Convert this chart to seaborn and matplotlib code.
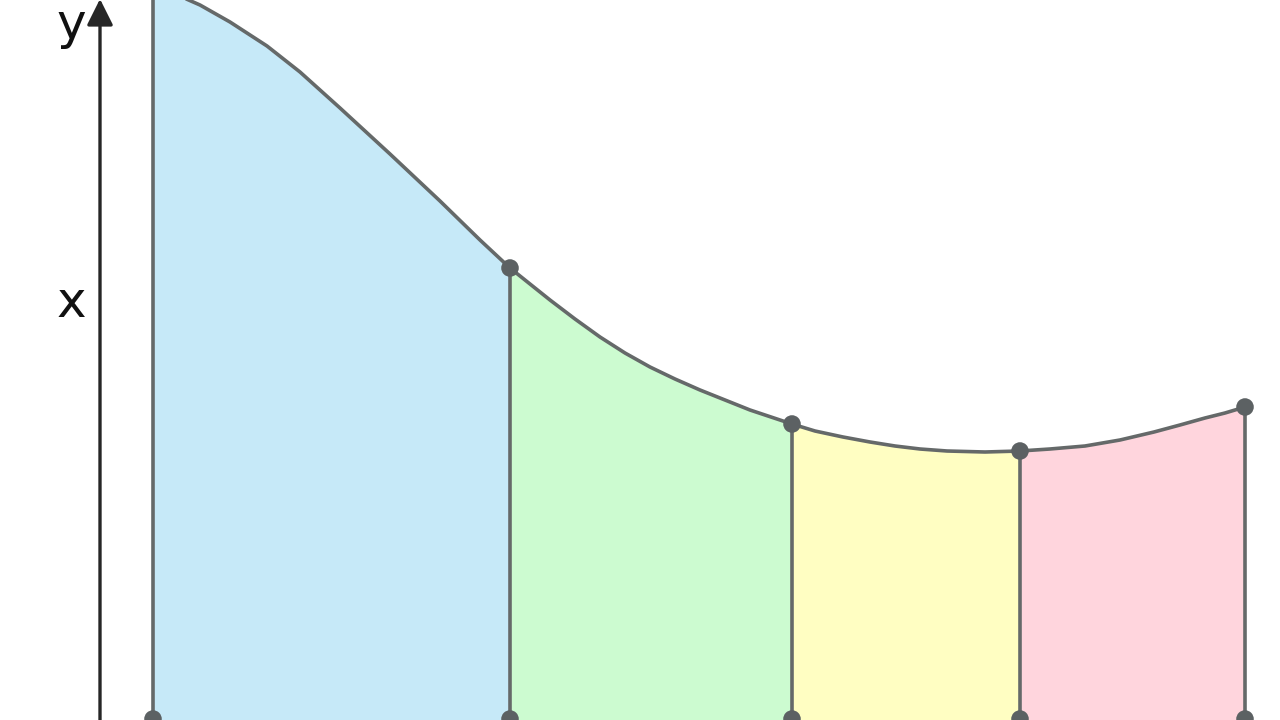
import numpy as np
import matplotlib
matplotlib.use('Agg')  # no display in the sandbox
import matplotlib.pyplot as plt
import seaborn as sns

# Curve (x position, height above the baseline)
curve_x = [153, 175, 200, 230, 267, 300, 340, 390, 440, 480, 510,
           530, 550, 575, 600, 625, 650, 675, 700, 725, 750, 771, 792,
           815, 843, 870, 895, 920, 947, 985, 1020,
           1050, 1085, 1120, 1154, 1180, 1205, 1225, 1245]
curve_h = [734, 726, 715, 698, 674, 648, 612, 566, 519, 480, 452,
           436, 420, 401, 383, 367, 353, 341, 330, 320, 310, 303, 296,
           289, 283, 278, 274, 271, 269, 268, 269,
           271, 274, 280, 288, 295, 302, 307, 313]

# Partition points and the colour of each strip
knots_x = [153, 510, 792, 1020, 1245]
region_colors = ['#c6e9f8', '#ccfbd0', '#fffec2', '#ffd5dd']

axis_label_x = 'x'
axis_label_y = 'y'

sns.set_theme(style="white")
plt.rcParams['font.family'] = ['DejaVu Sans']

line_color = '#656969'
dot_color = '#5c6163'

fig = plt.figure(figsize=(12.8, 7.2), dpi=100)
ax = fig.add_axes([0, 0, 1, 1])
ax.set_xlim(0, 1280)
ax.set_ylim(0, 720)
ax.set_axis_off()

xs = np.array(curve_x)
hs = np.array(curve_h)
height_at = dict(zip(curve_x, curve_h))
knots_h = [height_at[k] for k in knots_x]

# 1. coloured strips under the curve
for i, col in enumerate(region_colors):
    mask = (xs >= knots_x[i]) & (xs <= knots_x[i + 1])
    ax.fill_between(xs[mask], 0, hs[mask], color=col, lw=0, zorder=1)

# 2. the curve itself
sns.lineplot(x=curve_x, y=curve_h, ax=ax, sort=False, color=line_color,
             lw=2.6, zorder=3)
ax.lines[-1].set_solid_joinstyle('round')

# 3. vertical partition lines
ax.vlines(knots_x, 0, knots_h, color=line_color, lw=2.6, zorder=2)

# 4. dots on the curve and on the baseline
sns.scatterplot(x=knots_x[1:], y=knots_h[1:], ax=ax, s=160, color=dot_color,
                edgecolor='none', zorder=4, legend=False)
sns.scatterplot(x=knots_x, y=[1] * len(knots_x), ax=ax, s=160, color=dot_color,
                edgecolor='none', zorder=4, legend=False)

# 5. vertical axis with arrow head
ax.annotate('', xy=(100, 721), xytext=(100, -5),
            arrowprops=dict(arrowstyle='-|>', lw=2.4, color='#262626',
                            mutation_scale=40, shrinkA=0, shrinkB=0),
            annotation_clip=False, zorder=5)

ax.text(71, 719, axis_label_y, fontsize=36, ha='center', va='top',
        color='#111111')
ax.text(71, 403, axis_label_x, fontsize=36, ha='center', va='baseline',
        color='#111111')

fig.savefig('out.png', dpi=100)
plt.close(fig)
